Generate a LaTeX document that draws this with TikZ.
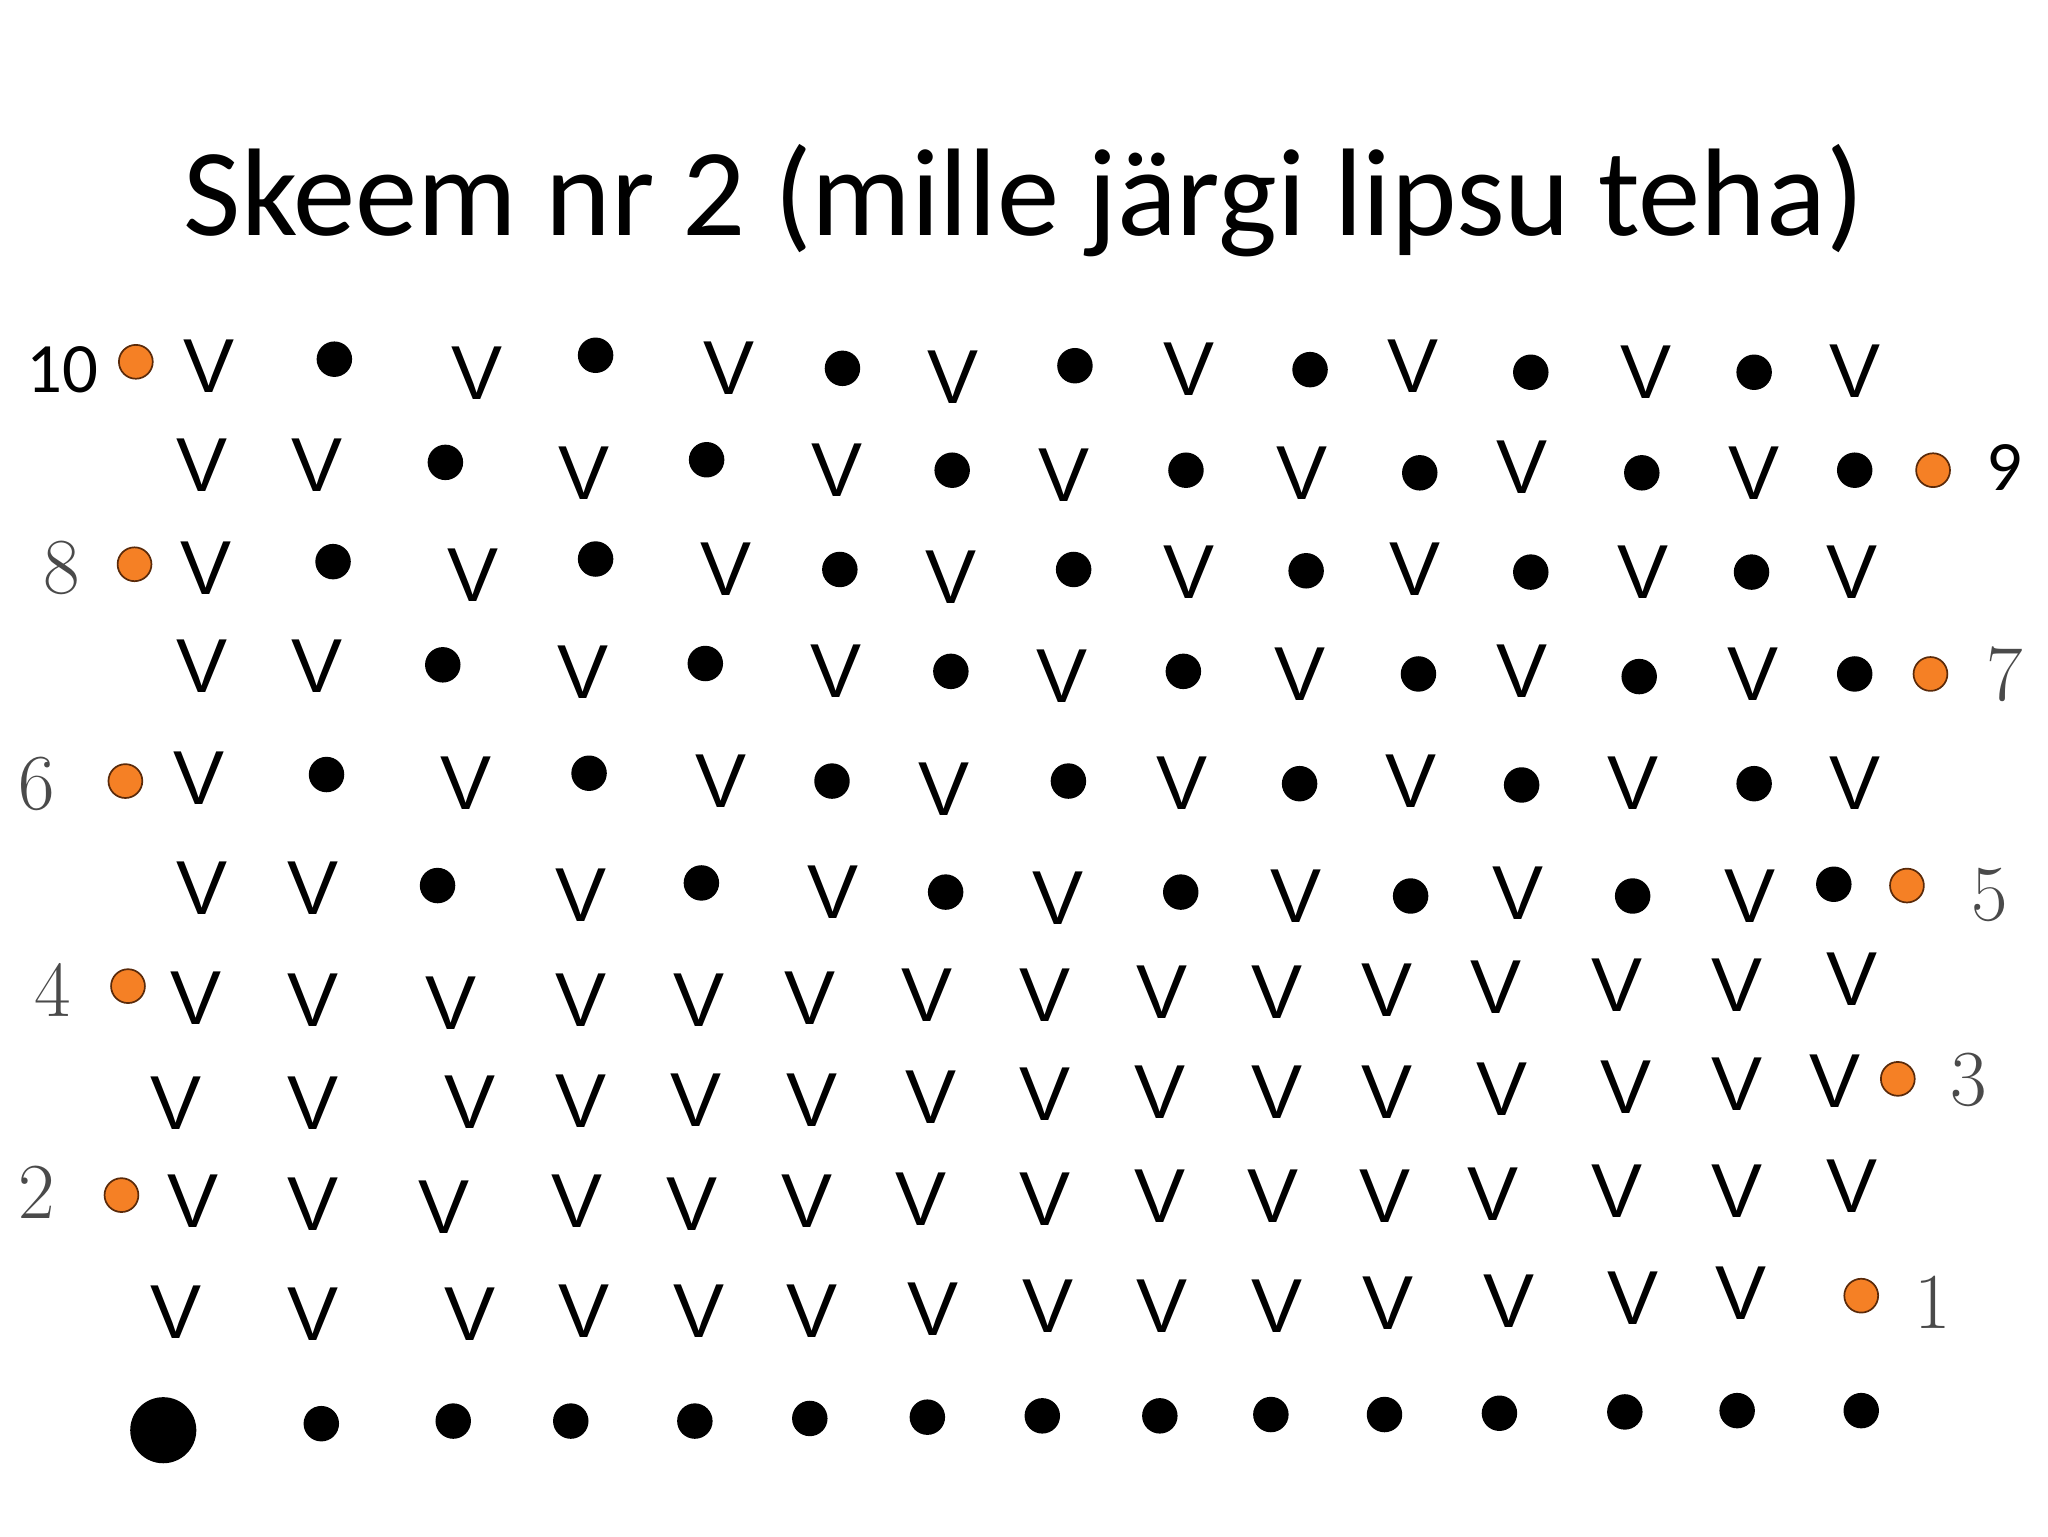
\documentclass[tikz,border=0pt]{standalone}
\usepackage{fontspec}
\newfontfamily\titlefont{Carlito}
\newfontfamily\vfont{Liberation Sans}

\definecolor{dotorange}{HTML}{F58025}
\definecolor{dotrim}{HTML}{5A2A0A}
\definecolor{numgray}{HTML}{4A4A4A}

\tikzset{
  vst/.style={inner sep=0pt, font=\vfont\fontsize{27}{27}\selectfont},
  dotst/.style={circle, fill=black, inner sep=0pt, minimum size=0.44cm},
  bigst/.style={circle, fill=black, inner sep=0pt, minimum size=0.82cm},
  rowdot/.style={circle, fill=dotorange, draw=dotrim, line width=0.6pt, inner sep=0pt, minimum size=0.42cm},
  rownum/.style={inner sep=0pt, text=numgray, font=\fontsize{28}{28}\selectfont},
  rownumsf/.style={inner sep=0pt, text=black, font=\titlefont\fontsize{25}{25}\selectfont}
}

\begin{document}
\begin{tikzpicture}[x=0.0162cm, y=-0.0162cm]

\useasboundingbox[fill=white] (0,0) rectangle (1568,1176);

\node[anchor=base, inner sep=0pt, font=\titlefont\fontsize{44}{44}\selectfont] (title) at (784,180) {Skeem nr 2 (mille järgi lipsu teha)};

\node[rownumsf] (n10) at (48,283) {10};
\node[rowdot] (o10) at (104,277) {};
\node[vst] (r10c1) at (160,280) {V};
\node[dotst] (r10c2) at (256,275) {};
\node[vst] (r10c3) at (365,286) {V};
\node[dotst] (r10c4) at (456,272) {};
\node[vst] (r10c5) at (558,282) {V};
\node[dotst] (r10c6) at (645,282) {};
\node[vst] (r10c7) at (730,289) {V};
\node[dotst] (r10c8) at (823,280) {};
\node[vst] (r10c9) at (910,283) {V};
\node[dotst] (r10c10) at (1003,283) {};
\node[vst] (r10c11) at (1082,280) {V};
\node[dotst] (r10c12) at (1172,285) {};
\node[vst] (r10c13) at (1260,285) {V};
\node[dotst] (r10c14) at (1343,285) {};
\node[vst] (r10c15) at (1420,284) {V};

\node[vst] (r9c1) at (155,356) {V};
\node[vst] (r9c2) at (243,356) {V};
\node[dotst] (r9c3) at (341,354) {};
\node[vst] (r9c4) at (447,362) {V};
\node[dotst] (r9c5) at (541,352) {};
\node[vst] (r9c6) at (641,360) {V};
\node[dotst] (r9c7) at (729,360) {};
\node[vst] (r9c8) at (815,364) {V};
\node[dotst] (r9c9) at (908,360) {};
\node[vst] (r9c10) at (997,362) {V};
\node[dotst] (r9c11) at (1087,362) {};
\node[vst] (r9c12) at (1165,358) {V};
\node[dotst] (r9c13) at (1257,362) {};
\node[vst] (r9c14) at (1343,362) {V};
\node[dotst] (r9c15) at (1420,360) {};
\node[rowdot] (o9) at (1480,360) {};
\node[rownumsf] (n9) at (1535,358) {9};

\node[rownum] (n8) at (47,435) {8};
\node[rowdot] (o8) at (103,432) {};
\node[vst] (r8c1) at (158,435) {V};
\node[dotst] (r8c2) at (255,430) {};
\node[vst] (r8c3) at (362,440) {V};
\node[dotst] (r8c4) at (456,428) {};
\node[vst] (r8c5) at (556,436) {V};
\node[dotst] (r8c6) at (643,436) {};
\node[vst] (r8c7) at (728,442) {V};
\node[dotst] (r8c8) at (822,436) {};
\node[vst] (r8c9) at (910,438) {V};
\node[dotst] (r8c10) at (1000,437) {};
\node[vst] (r8c11) at (1083,436) {V};
\node[dotst] (r8c12) at (1172,438) {};
\node[vst] (r8c13) at (1258,438) {V};
\node[dotst] (r8c14) at (1341,438) {};
\node[vst] (r8c15) at (1418,438) {V};

\node[vst] (r7c1) at (155,510) {V};
\node[vst] (r7c2) at (243,510) {V};
\node[dotst] (r7c3) at (339,509) {};
\node[vst] (r7c4) at (446,515) {V};
\node[dotst] (r7c5) at (540,508) {};
\node[vst] (r7c6) at (640,514) {V};
\node[dotst] (r7c7) at (728,514) {};
\node[vst] (r7c8) at (813,518) {V};
\node[dotst] (r7c9) at (906,514) {};
\node[vst] (r7c10) at (995,516) {V};
\node[dotst] (r7c11) at (1086,516) {};
\node[vst] (r7c12) at (1165,514) {V};
\node[dotst] (r7c13) at (1255,518) {};
\node[vst] (r7c14) at (1342,516) {V};
\node[dotst] (r7c15) at (1420,516) {};
\node[rowdot] (o7) at (1478,516) {};
\node[rownum] (n7) at (1535,516) {7};

\node[rownum] (n6) at (28,600) {6};
\node[rowdot] (o6) at (96,598) {};
\node[vst] (r6c1) at (152,596) {V};
\node[dotst] (r6c2) at (250,593) {};
\node[vst] (r6c3) at (357,600) {V};
\node[dotst] (r6c4) at (451,592) {};
\node[vst] (r6c5) at (552,598) {V};
\node[dotst] (r6c6) at (637,598) {};
\node[vst] (r6c7) at (723,604) {V};
\node[dotst] (r6c8) at (818,598) {};
\node[vst] (r6c9) at (905,600) {V};
\node[dotst] (r6c10) at (995,600) {};
\node[vst] (r6c11) at (1080,598) {V};
\node[dotst] (r6c12) at (1165,601) {};
\node[vst] (r6c13) at (1250,600) {V};
\node[dotst] (r6c14) at (1343,600) {};
\node[vst] (r6c15) at (1420,600) {V};

\node[vst] (r5c1) at (155,680) {V};
\node[vst] (r5c2) at (240,680) {V};
\node[dotst] (r5c3) at (335,678) {};
\node[vst] (r5c4) at (445,685) {V};
\node[dotst] (r5c5) at (537,676) {};
\node[vst] (r5c6) at (638,683) {V};
\node[dotst] (r5c7) at (724,683) {};
\node[vst] (r5c8) at (810,688) {V};
\node[dotst] (r5c9) at (904,683) {};
\node[vst] (r5c10) at (992,686) {V};
\node[dotst] (r5c11) at (1080,686) {};
\node[vst] (r5c12) at (1162,684) {V};
\node[dotst] (r5c13) at (1250,686) {};
\node[vst] (r5c14) at (1340,686) {V};
\node[dotst] (r5c15) at (1404,677) {};
\node[rowdot] (o5) at (1460,678) {};
\node[rownum] (n5) at (1523,685) {5};

\node[rownum] (n4) at (40,758) {4};
\node[rowdot] (o4) at (98,755) {};
\node[vst] (r4c1) at (150,764) {V};
\node[vst] (r4c2) at (240,766) {V};
\node[vst] (r4c3) at (345,768) {V};
\node[vst] (r4c4) at (445,766) {V};
\node[vst] (r4c5) at (535,766) {V};
\node[vst] (r4c6) at (620,764) {V};
\node[vst] (r4c7) at (710,762) {V};
\node[vst] (r4c8) at (800,762) {V};
\node[vst] (r4c9) at (890,760) {V};
\node[vst] (r4c10) at (978,760) {V};
\node[vst] (r4c11) at (1062,758) {V};
\node[vst] (r4c12) at (1145,756) {V};
\node[vst] (r4c13) at (1238,754) {V};
\node[vst] (r4c14) at (1330,754) {V};
\node[vst] (r4c15) at (1418,750) {V};

\node[vst] (r3c1) at (135,845) {V};
\node[vst] (r3c2) at (240,845) {V};
\node[vst] (r3c3) at (360,844) {V};
\node[vst] (r3c4) at (445,843) {V};
\node[vst] (r3c5) at (533,842) {V};
\node[vst] (r3c6) at (622,842) {V};
\node[vst] (r3c7) at (713,840) {V};
\node[vst] (r3c8) at (800,838) {V};
\node[vst] (r3c9) at (888,836) {V};
\node[vst] (r3c10) at (978,836) {V};
\node[vst] (r3c11) at (1062,836) {V};
\node[vst] (r3c12) at (1150,834) {V};
\node[vst] (r3c13) at (1245,832) {V};
\node[vst] (r3c14) at (1330,830) {V};
\node[vst] (r3c15) at (1405,828) {V};
\node[rowdot] (o3) at (1453,826) {};
\node[rownum] (n3) at (1507,827) {3};

\node[rownum] (n2) at (28,913) {2};
\node[rowdot] (o2) at (93,915) {};
\node[vst] (r2c1) at (148,920) {V};
\node[vst] (r2c2) at (240,922) {V};
\node[vst] (r2c3) at (340,924) {V};
\node[vst] (r2c4) at (442,920) {V};
\node[vst] (r2c5) at (530,922) {V};
\node[vst] (r2c6) at (618,920) {V};
\node[vst] (r2c7) at (705,918) {V};
\node[vst] (r2c8) at (800,918) {V};
\node[vst] (r2c9) at (888,916) {V};
\node[vst] (r2c10) at (975,916) {V};
\node[vst] (r2c11) at (1060,916) {V};
\node[vst] (r2c12) at (1143,914) {V};
\node[vst] (r2c13) at (1238,912) {V};
\node[vst] (r2c14) at (1330,912) {V};
\node[vst] (r2c15) at (1418,908) {V};

\node[vst] (r1c1) at (135,1005) {V};
\node[vst] (r1c2) at (240,1006) {V};
\node[vst] (r1c3) at (360,1006) {V};
\node[vst] (r1c4) at (447,1004) {V};
\node[vst] (r1c5) at (535,1004) {V};
\node[vst] (r1c6) at (622,1004) {V};
\node[vst] (r1c7) at (714,1002) {V};
\node[vst] (r1c8) at (802,1000) {V};
\node[vst] (r1c9) at (890,1000) {V};
\node[vst] (r1c10) at (978,1000) {V};
\node[vst] (r1c11) at (1063,998) {V};
\node[vst] (r1c12) at (1155,996) {V};
\node[vst] (r1c13) at (1250,994) {V};
\node[vst] (r1c14) at (1333,990) {V};
\node[rowdot] (o1) at (1425,992) {};
\node[rownum] (n1) at (1480,997) {1};

\node[bigst] (r0c1) at (125,1095) {};
\node[dotst] (r0c2) at (246,1090) {};
\node[dotst] (r0c3) at (347,1088) {};
\node[dotst] (r0c4) at (437,1088) {};
\node[dotst] (r0c5) at (532,1088) {};
\node[dotst] (r0c6) at (620,1086) {};
\node[dotst] (r0c7) at (710,1085) {};
\node[dotst] (r0c8) at (798,1084) {};
\node[dotst] (r0c9) at (888,1084) {};
\node[dotst] (r0c10) at (973,1083) {};
\node[dotst] (r0c11) at (1060,1083) {};
\node[dotst] (r0c12) at (1148,1082) {};
\node[dotst] (r0c13) at (1244,1081) {};
\node[dotst] (r0c14) at (1330,1080) {};
\node[dotst] (r0c15) at (1425,1080) {};
\end{tikzpicture}
\end{document}
